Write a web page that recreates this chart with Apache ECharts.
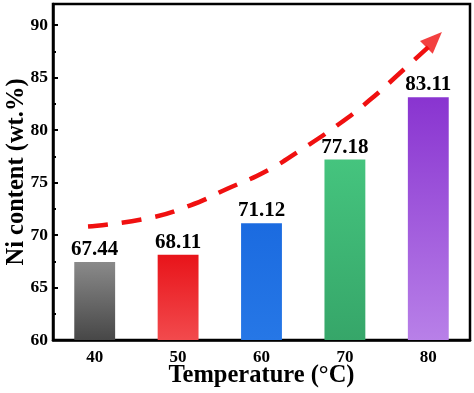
<!DOCTYPE html>
<html><head><meta charset="utf-8">
<script src="https://cdn.jsdelivr.net/npm/echarts@6/dist/echarts.min.js"></script>
<style>html,body{margin:0;padding:0;background:#fff}#c{width:474px;height:393px}</style>
</head><body><div id="c"></div>
<script>
var categories = ['40', '50', '60', '70', '80'];
var niContent = [67.44, 68.11, 71.12, 77.18, 83.11];
var yTicks = [60, 65, 70, 75, 80, 85, 90];
// trend arrow path in (category position, value) coordinates
var trendX = [0.42, 1.14, 1.64, 2.09, 2.56, 2.99, 3.40, 3.79, 4.17, 4.50];
var trendY = [70.8, 71.6, 72.8, 74.4, 76.1, 78.2, 80.4, 82.8, 85.5, 87.9];
var arrowHead = [4.57, 88.6];

var palette = [
  ['#8a8a8a', '#474747'],
  ['#e8141a', '#f24a4d'],
  ['#1b6be0', '#2677e6'],
  ['#45c47e', '#36a669'],
  ['#8934d0', '#b880e8']
];
var serif = '"Liberation Serif","DejaVu Serif",serif';

var chart = echarts.init(document.getElementById('c'));
chart.setOption({
  animation: false,
  grid: {left: 53, right: 4, top: 4, bottom: 53, show: true, borderColor: '#000', borderWidth: 2.5,
    containLabel: false, outerBoundsMode: 'none'},
  xAxis: [{
    type: 'category', data: categories,
    axisLine: {lineStyle: {color: '#000', width: 2.5}},
    axisTick: {show: false},
    axisLabel: {color: '#000', fontFamily: serif, fontWeight: 'bold', fontSize: 17, margin: 9},
    name: 'Temperature (°C)', nameLocation: 'middle', nameGap: 23, nameMoveOverlap: false,
    nameTextStyle: {color: '#000', fontFamily: serif, fontWeight: 'bold', fontSize: 24.5, verticalAlign: 'top'}
  }, {
    type: 'value', min: 0, max: 5, show: false
  }],
  yAxis: {
    type: 'value', min: yTicks[0], max: 92, interval: 5,
    axisLine: {show: true, lineStyle: {color: '#000', width: 2.5}},
    axisTick: {show: true, inside: true, length: 5, lineStyle: {color: '#000', width: 2}},
    minorTick: {show: true, splitNumber: 2, length: 3, lineStyle: {color: '#000', width: 2}},
    splitLine: {show: false},
    axisLabel: {color: '#000', fontFamily: serif, fontWeight: 'bold', fontSize: 17.5, margin: 5, showMaxLabel: false},
    name: 'Ni content (wt.%)', nameLocation: 'middle', nameGap: 24, nameMoveOverlap: false,
    nameTextStyle: {color: '#000', fontFamily: serif, fontWeight: 'bold', fontSize: 24.5}
  },
  series: [{
    type: 'bar', barWidth: '49%',
    data: niContent.map(function (v, i) {
      return {value: v, itemStyle: {color: {type: 'linear', x: 0, y: 0, x2: 0, y2: 1,
        colorStops: [{offset: 0, color: palette[i][0]}, {offset: 1, color: palette[i][1]}]}}};
    }),
    label: {show: true, position: 'top', distance: 2, color: '#000', fontFamily: serif, fontWeight: 'bold', fontSize: 21,
      formatter: function (p) { return p.value.toFixed(2); }}
  }, {
    type: 'line', xAxisIndex: 1, smooth: true, symbol: 'none',
    data: trendX.map(function (x, i) { return [x, trendY[i]]; }),
    lineStyle: {color: '#f01010', width: 4.5, type: [20, 14]},
    z: 5
  }, {
    type: 'scatter', xAxisIndex: 1,
    data: [arrowHead],
    symbol: 'triangle', symbolSize: [18, 22], symbolRotate: -45,
    itemStyle: {color: '#f01010'}, z: 6
  }]
});
</script></body></html>
